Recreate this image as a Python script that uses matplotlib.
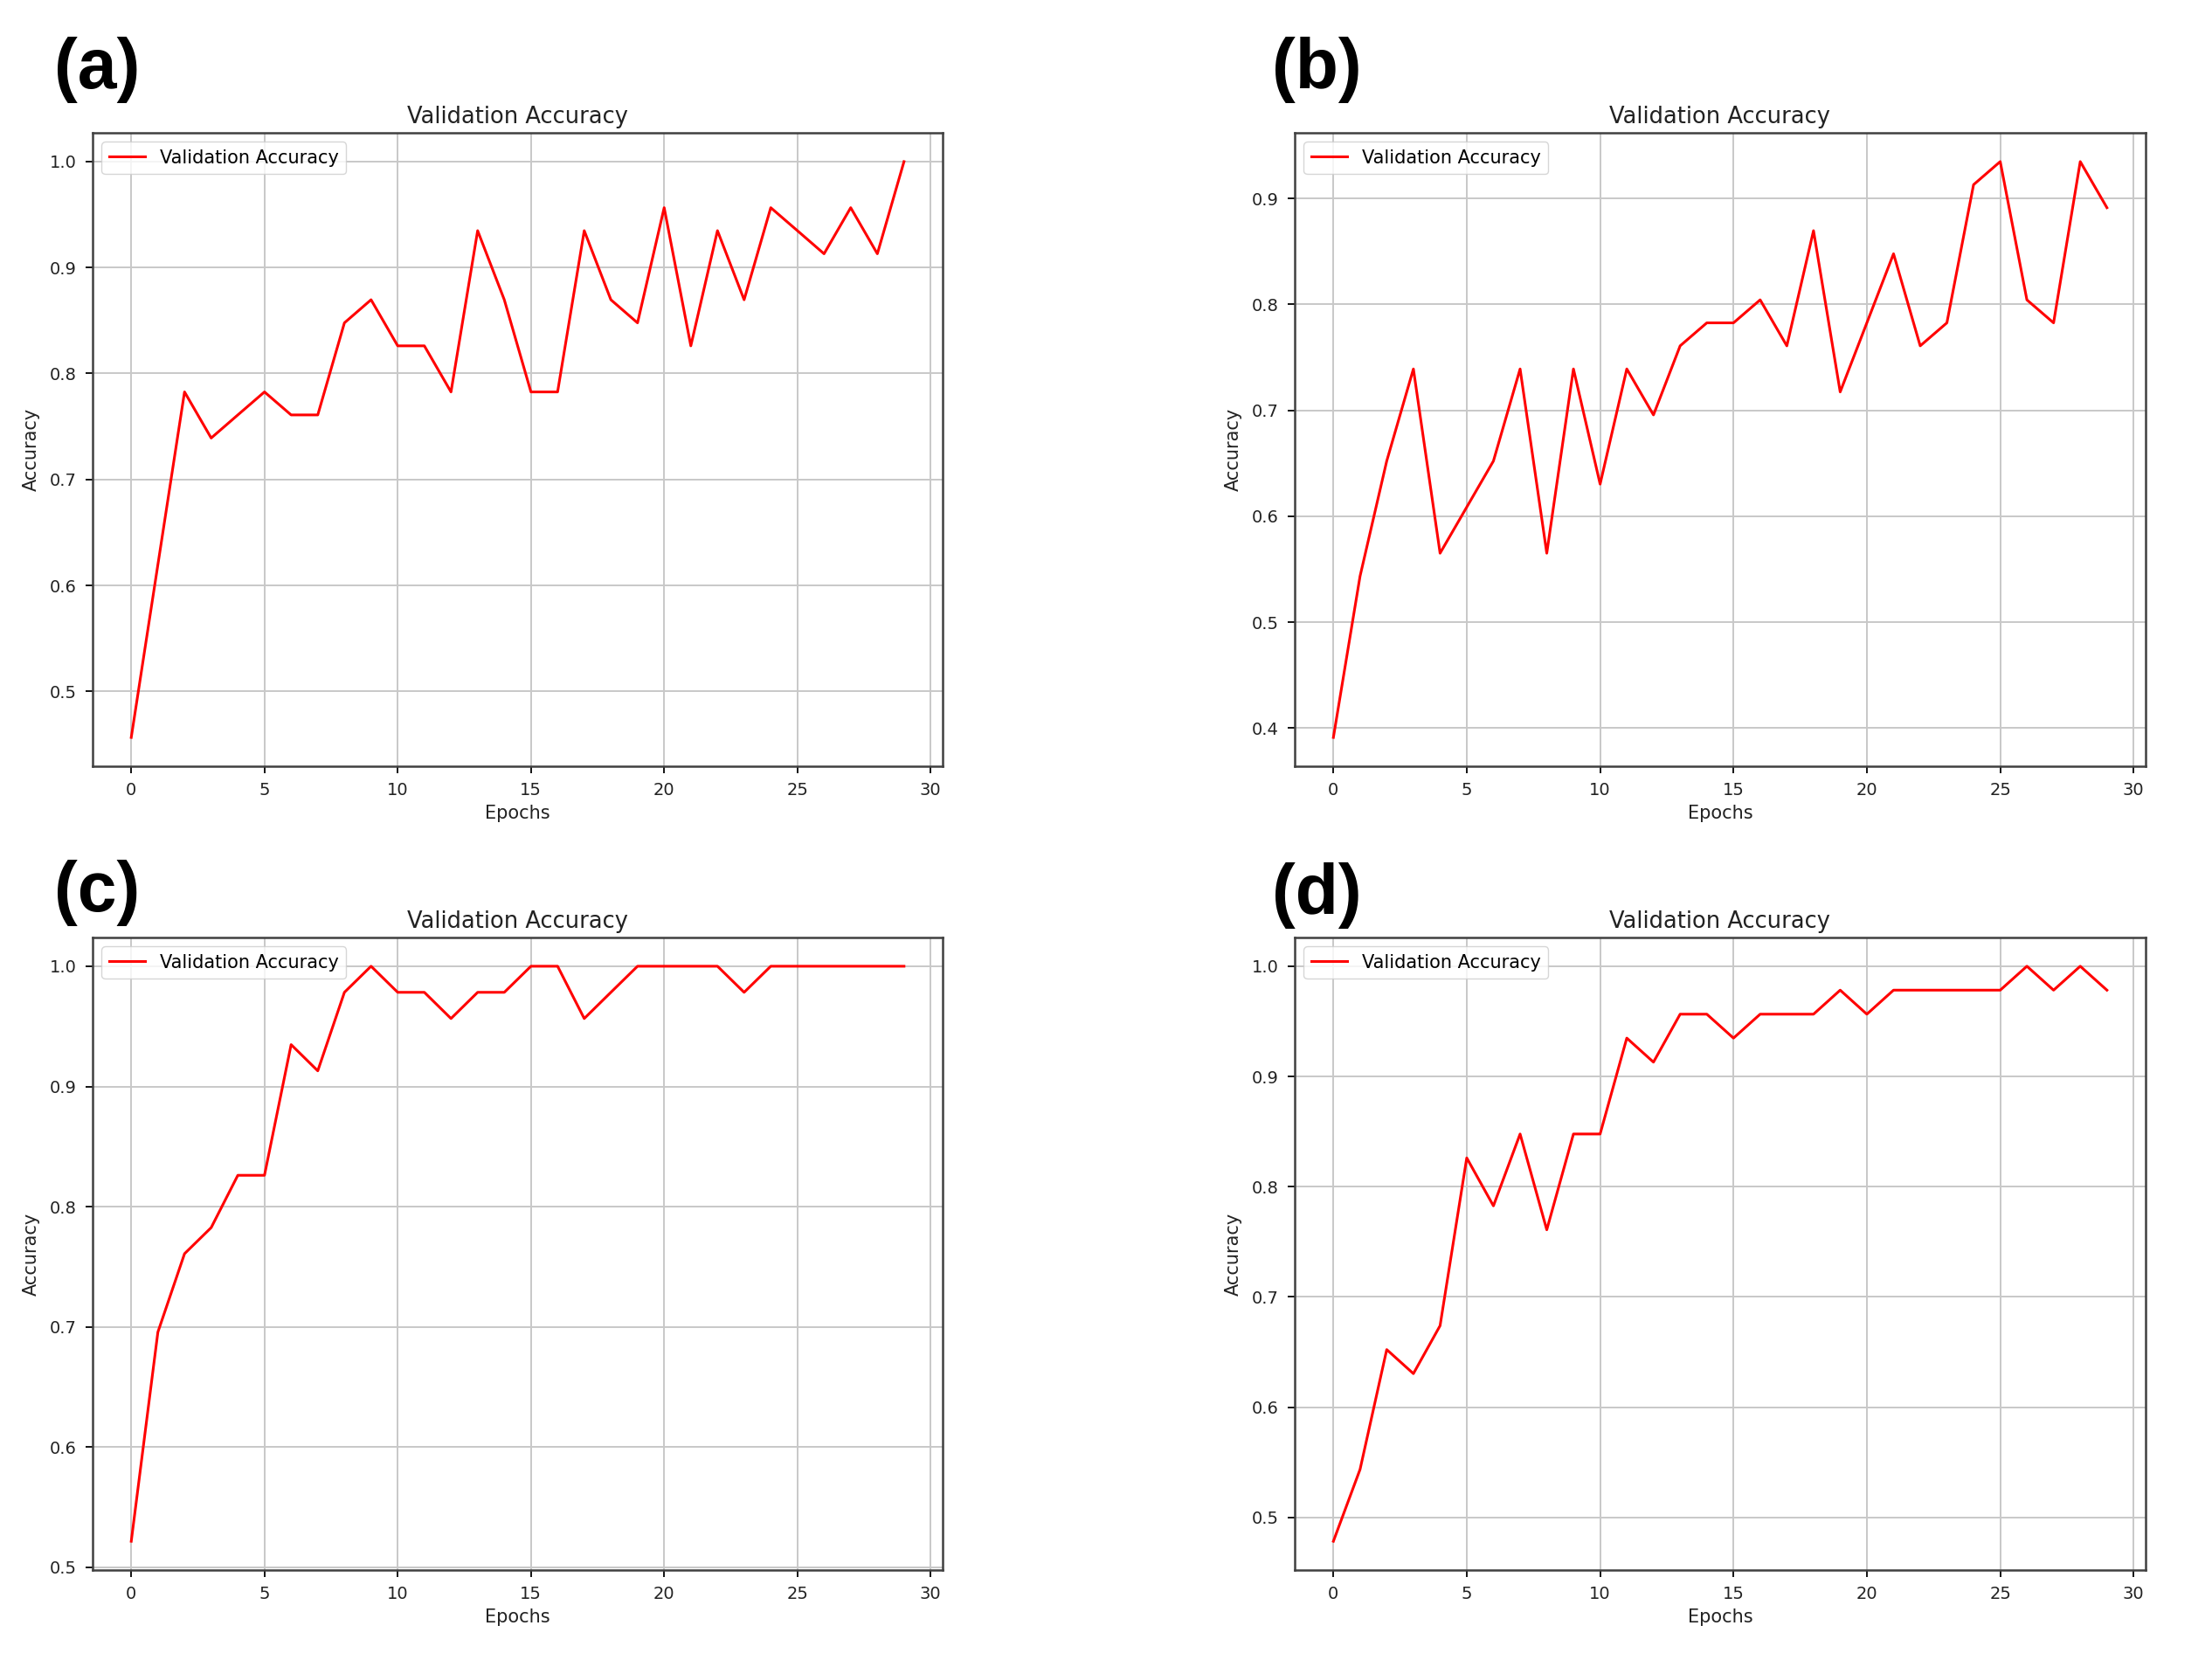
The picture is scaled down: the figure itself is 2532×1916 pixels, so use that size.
import matplotlib
matplotlib.use("Agg")
import matplotlib.pyplot as plt

# epochs and validation accuracy
epochs = list(range(30))

acc_a = [0.4565, 0.6196, 0.7826, 0.7391, 0.7609, 0.7826, 0.7609, 0.7609, 0.8478, 0.8696,
         0.8261, 0.8261, 0.7826, 0.9348, 0.8696, 0.7826, 0.7826, 0.9348, 0.8696, 0.8478,
         0.9565, 0.8261, 0.9348, 0.8696, 0.9565, 0.9348, 0.9130, 0.9565, 0.9130, 1.0]

acc_b = [0.3913, 0.5435, 0.6522, 0.7391, 0.5652, 0.6087, 0.6522, 0.7391, 0.5652, 0.7391,
         0.6304, 0.7391, 0.6957, 0.7609, 0.7826, 0.7826, 0.8043, 0.7609, 0.8696, 0.7174,
         0.7826, 0.8478, 0.7609, 0.7826, 0.9130, 0.9348, 0.8043, 0.7826, 0.9348, 0.8913]

acc_c = [0.5217, 0.6957, 0.7609, 0.7826, 0.8261, 0.8261, 0.9348, 0.9130, 0.9783, 1.0,
         0.9783, 0.9783, 0.9565, 0.9783, 0.9783, 1.0, 1.0, 0.9565, 0.9783, 1.0,
         1.0, 1.0, 1.0, 0.9783, 1.0, 1.0, 1.0, 1.0, 1.0, 1.0]

acc_d = [0.4783, 0.5435, 0.6522, 0.6304, 0.6739, 0.8261, 0.7826, 0.8478, 0.7609, 0.8478,
         0.8478, 0.9348, 0.9130, 0.9565, 0.9565, 0.9348, 0.9565, 0.9565, 0.9565, 0.9783,
         0.9565, 0.9783, 0.9783, 0.9783, 0.9783, 0.9783, 1.0, 0.9783, 1.0, 0.9783]

panel_labels = ["(a)", "(b)", "(c)", "(d)"]

W, H = 2532, 1916
fig = plt.figure(figsize=(W / 100, H / 100), dpi=100)

# axes boxes in pixels: left, top, right, bottom
boxes = [(106, 152, 1079, 877), (1482, 152, 2456, 877),
         (106, 1073, 1079, 1797), (1482, 1073, 2456, 1797)]
label_pos = [(62, 80), (1456, 80), (62, 1022), (1456, 1025)]
series = [acc_a, acc_b, acc_c, acc_d]

for (l, t, r, b), acc, lab, (lx, ly) in zip(boxes, series, panel_labels, label_pos):
    ax = fig.add_axes([l / W, 1 - b / H, (r - l) / W, (b - t) / H])
    ax.plot(epochs, acc, color="red", linewidth=2.2, label="Validation Accuracy")
    ax.set_title("Validation Accuracy", fontsize=18.5, pad=8, color="#222222")
    ax.set_xlabel("Epochs", fontsize=15, labelpad=5, color="#222222")
    ax.set_ylabel("Accuracy", fontsize=15, labelpad=8, color="#222222")
    ax.set_xticks([0, 5, 10, 15, 20, 25, 30])
    ax.tick_params(labelsize=14, length=6, width=1.3, pad=7, labelcolor="#222222")
    ax.grid(True, color="#c8c8c8", linewidth=1.4)
    for sp in ax.spines.values():
        sp.set_linewidth(1.8)
        sp.set_color("#404040")
    ax.legend(loc="upper left", fontsize=15)
    fig.text(lx / W, 1 - ly / H, lab, fontsize=58, fontweight="bold",
             family="Liberation Sans", ha="left", va="center")

fig.savefig("out.png", dpi=100)
